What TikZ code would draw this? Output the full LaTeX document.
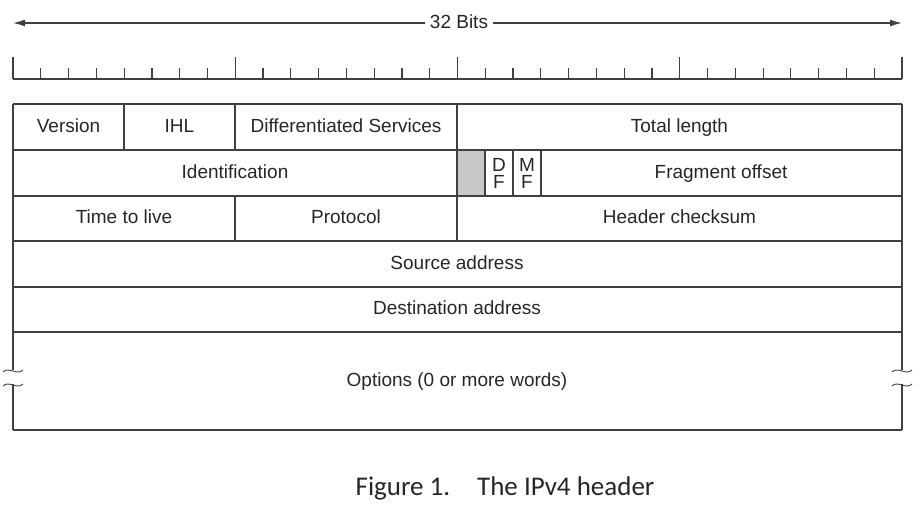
\documentclass[tikz,border=0pt]{standalone}
\usepackage{fontspec}
\setmainfont{Liberation Sans}
\newfontfamily\capfont{Carlito}
\usetikzlibrary{arrows.meta}
\begin{document}
\begin{tikzpicture}[x=1pt,y=-1pt,line width=1.2pt,
  lbl/.style={font=\fontsize{19}{21}\selectfont,text=black!85,inner sep=0pt,text height=13.5pt,text depth=3.5pt},
  ln/.style={draw=black!75}]
\useasboundingbox (0,0) rectangle (919,520);
% top arrow
\node[lbl,inner xsep=4pt] (bits) at (459,23) {32 Bits};
\coordinate (al) at (13,23); \coordinate (ar) at (902,23);
\draw[ln,-{Latex[length=12pt,width=7pt]}] (bits.west) -- (al);
\draw[ln,-{Latex[length=12pt,width=7pt]}] (bits.east) -- (ar);
% ruler
\draw[ln] (13,79) -- (902,79);
\foreach \i in {0,...,32}{
  \pgfmathsetmacro\xx{13+27.78125*\i}
  \pgfmathtruncatemacro\m{mod(\i,8)}
  \ifnum\m=0 \draw[ln] (\xx,57) -- (\xx,79); \else \draw[ln] (\xx,68) -- (\xx,79); \fi
}
% shaded bit
\fill[black!22] (457,150) rectangle (485,196);
% rows
\draw[ln] (13,104) -- (902,104);
\foreach \y in {150,196,241,287,332,430} \draw[ln] (13,\y) -- (902,\y);
% outer sides with breaks
\draw[ln] (13,104) -- (13,370); \draw[ln] (13,384) -- (13,430);
\draw[ln] (902,104) -- (902,370); \draw[ln] (902,384) -- (902,430);
\foreach \xx in {13,902}{
  \draw[ln,line width=0.9pt] (\xx-10,372) .. controls (\xx-4,366) and (\xx+4,376) .. (\xx+10,370);
  \draw[ln,line width=0.9pt] (\xx-10,386) .. controls (\xx-4,380) and (\xx+4,390) .. (\xx+10,384);
}
% columns
\draw[ln] (124,104) -- (124,150);
\draw[ln] (235,104) -- (235,150);
\draw[ln] (457,104) -- (457,241);
\draw[ln] (485,150) -- (485,196);
\draw[ln] (513,150) -- (513,196);
\draw[ln] (541,150) -- (541,196);
\draw[ln] (235,196) -- (235,241);
% labels
\node[lbl] (ver) at (68.5,127) {Version};
\node[lbl] (ihl) at (179.5,127) {IHL};
\node[lbl] (ds) at (346,127) {Differentiated Services};
\node[lbl] (tl) at (679.5,127) {Total length};
\node[lbl] (id) at (235,173) {Identification};
\node[font=\fontsize{19}{17}\selectfont,text=black!85,inner sep=0pt,align=center] (df) at (499,173) {D\\F};
\node[font=\fontsize{19}{17}\selectfont,text=black!85,inner sep=0pt,align=center] (mf) at (527,173) {M\\F};
\node[lbl] (fo) at (721,173) {Fragment offset};
\node[lbl] (ttl) at (124,218) {Time to live};
\node[lbl] (pr) at (346,218) {Protocol};
\node[lbl] (hc) at (679.5,218) {Header checksum};
\node[lbl] (sa) at (457,264) {Source address};
\node[lbl] (da) at (457,309) {Destination address};
\node[lbl] (op) at (457,381) {Options (0 or more words)};
\node[font=\capfont\fontsize{27}{30}\selectfont,text=black!85] (cap) at (505,488) {Figure 1.\hspace{1em}The IPv4 header};
\end{tikzpicture}
\end{document}
